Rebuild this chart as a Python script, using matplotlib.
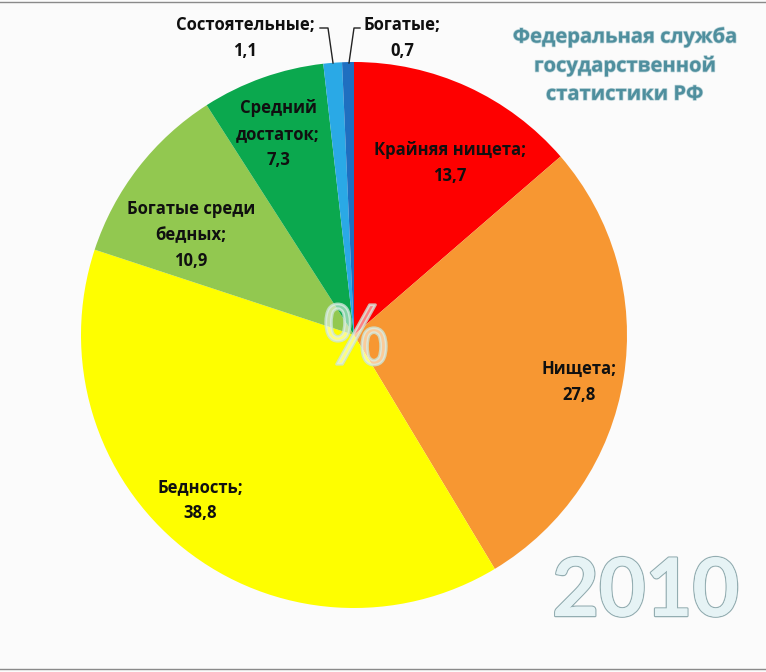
import matplotlib
matplotlib.use("Agg")
import matplotlib.pyplot as plt
import matplotlib.patheffects as pe

# ---------------------------------------------
# DATA
# ---------------------------------------------

groups = ["Крайняя нищета", "Нищета", "Бедность", "Богатые среди бедных",
          "Средний достаток", "Состоятельные", "Богатые"]
shares = [13.7, 27.8, 38.8, 10.9, 7.3, 1.1, 0.7]
colors = ["#fe0000", "#f79732", "#fefe00", "#92c850", "#0ba84e", "#2aa9e6", "#1f6fc0"]

share_labels = ["Крайняя нищета;\n13,7", "Нищета;\n27,8", "Бедность;\n38,8",
                "Богатые среди\nбедных;\n10,9", "Средний\nдостаток;\n7,3",
                "Состоятельные;\n1,1", "Богатые;\n0,7"]
label_x = [450, 579, 200, 191, 278, 245, 402]
label_y = [163, 382, 500, 235, 134, 38, 38]

source_text = "Федеральная служба\nгосударственной\nстатистики РФ"
year_text = "2010"

# ---------------------------------------------
# FIGURE
# ---------------------------------------------

W, H = 766, 672
plt.rcParams["font.family"] = ["Open Sans", "DejaVu Sans"]

fig = plt.figure(figsize=(W / 100, H / 100), dpi=100, facecolor="#fbfbfb")
ax = fig.add_axes([0, 0, 1, 1])

ax.pie(shares, colors=colors, startangle=90, counterclock=False,
       center=(354, H - 335), radius=273, frame=True)
ax.set_xlim(0, W)
ax.set_ylim(0, H)
ax.axis("off")

# labels
for text, x, y in zip(share_labels, label_x, label_y):
    ax.text(x, H - y, text, ha="center", va="center", fontsize=12,
            fontweight="bold", color="#101010", linespacing=1.6)

# leader lines for the two thin slices
ax.plot([320, 328, 333], [H - 28, H - 28, H - 63], color="#222222", lw=1)
ax.plot([360, 354, 349], [H - 28, H - 28, H - 63], color="#222222", lw=1)

# percent sign in the middle
ax.text(356, H - 343, "%", ha="center", va="center", fontsize=60,
        color=(1, 1, 1, 0.3),
        path_effects=[pe.withStroke(linewidth=2, foreground=(0.8, 0.9, 0.85, 0.8))])

# source
ax.text(625, H - 66, source_text, ha="center", va="center", fontsize=14.5,
        fontweight="bold", color="#4f8f9e", linespacing=1.55,
        path_effects=[pe.withStroke(linewidth=1, foreground="#b9d3d8")])

# year
ax.text(645.5, H - 593, year_text, ha="center", va="center", fontsize=58,
        fontweight="bold", color="#e6f3f5", family=["Lato", "DejaVu Sans"],
        path_effects=[pe.withStroke(linewidth=1.8, foreground="#93adb1"),
                      pe.Normal()])

# thin lines along the top and bottom edges
ax.plot([0, W], [H - 2, H - 2], color="#8a8a8a", lw=1)
ax.plot([0, W], [H - 669, H - 669], color="#8a8a8a", lw=1)

fig.savefig("out.png", dpi=100, facecolor=fig.get_facecolor())
